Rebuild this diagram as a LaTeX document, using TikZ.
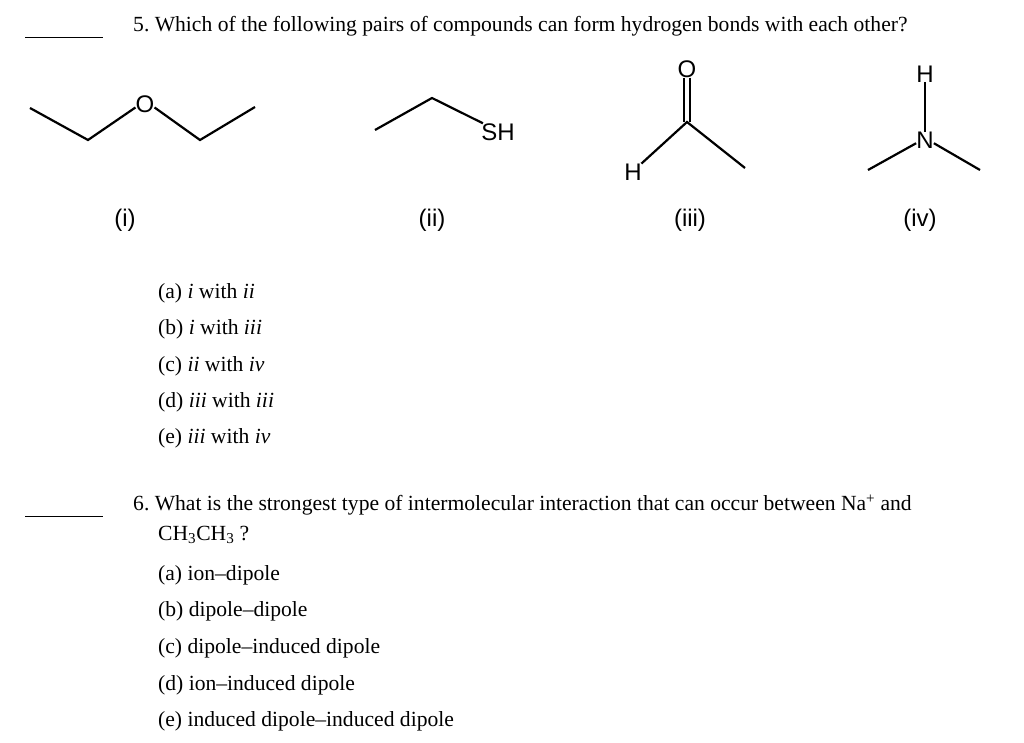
\documentclass[tikz,border=0pt]{standalone}
\usepackage{fontspec}
\setmainfont{Liberation Serif}
\newfontfamily\arial{Liberation Sans}
\begin{document}
\begin{tikzpicture}[x=1pt,y=-1pt,
  txt/.style={anchor=west,inner sep=0,font=\fontsize{21.6}{24}\selectfont},
  atom/.style={inner sep=0,font=\arial\fontsize{24}{26}\selectfont},
  lab/.style={inner sep=0,font=\arial\fontsize{24}{26}\selectfont},
  bond/.style={line width=2.2pt}]
\useasboundingbox (0,0) rectangle (1024,743);
\coordinate (b1a) at (25,37); \coordinate (b1b) at (103,37);
\draw[line width=0.8pt] (b1a) -- (b1b);
\coordinate (b2a) at (25,516); \coordinate (b2b) at (103,516);
\draw[line width=0.8pt] (b2a) -- (b2b);
\node[txt] (q5) at (133,26) {5.\ Which of the following pairs of compounds can form hydrogen bonds with each other?};
% (i)
\node[atom] (O1) at (145,104) {O};
\coordinate (i1) at (30,108); \coordinate (i2) at (88,140); \coordinate (i3) at (200,140); \coordinate (i4) at (255,107);
\draw[bond] (i1) -- (i2) -- (O1.200); \draw[bond] (O1.-20) -- (i3) -- (i4);
% (ii)
\node[atom] (SH) at (498,132) {SH};
\coordinate (ii1) at (375,130); \coordinate (ii2) at (432,98);
\draw[bond] (ii1) -- (ii2) -- (SH.150);
% (iii)
\node[atom] (O3) at (687,69) {O};
\node[atom] (H3) at (633,172) {H};
\coordinate (c3) at (687,122); \coordinate (m3) at (745,168);
\draw[bond] ([xshift=-3pt]O3.south) -- ([xshift=-3pt]c3);
\draw[bond] ([xshift=3pt]O3.south) -- ([xshift=3pt]c3);
\draw[bond] (H3.45) -- (c3) -- (m3);
% (iv)
\node[atom] (H4) at (925,74) {H};
\node[atom] (N4) at (925,140) {N};
\coordinate (n1) at (868,170); \coordinate (n2) at (980,170);
\draw[bond] (H4.south) -- (N4.north);
\draw[bond] (n1) -- (N4.200); \draw[bond] (N4.-20) -- (n2);
\node[lab] (l1) at (125,220) {(i)};
\node[lab] (l2) at (432,220) {(ii)};
\node[lab] (l3) at (690,220) {(iii)};
\node[lab] (l4) at (920,220) {(iv)};
\node[txt] (a5) at (158,293) {(a)\ \textit{i} with \textit{ii}};
\node[txt] (b5) at (158,329) {(b)\ \textit{i} with \textit{iii}};
\node[txt] (c5) at (158,366) {(c)\ \textit{ii} with \textit{iv}};
\node[txt] (d5) at (158,402) {(d)\ \textit{iii} with \textit{iii}};
\node[txt] (e5) at (158,438) {(e)\ \textit{iii} with \textit{iv}};
\node[txt] (q6) at (133,505) {6.\ What is the strongest type of intermolecular interaction that can occur between Na\textsuperscript{+} and};
\node[txt] (q6b) at (158,535) {CH\textsubscript{3}CH\textsubscript{3} ?};
\node[txt] (a6) at (158,575) {(a)\ ion--dipole};
\node[txt] (b6) at (158,611) {(b)\ dipole--dipole};
\node[txt] (c6) at (158,648) {(c)\ dipole--induced dipole};
\node[txt] (d6) at (158,685) {(d)\ ion--induced dipole};
\node[txt] (e6) at (158,721) {(e)\ induced dipole--induced dipole};
\end{tikzpicture}
\end{document}
